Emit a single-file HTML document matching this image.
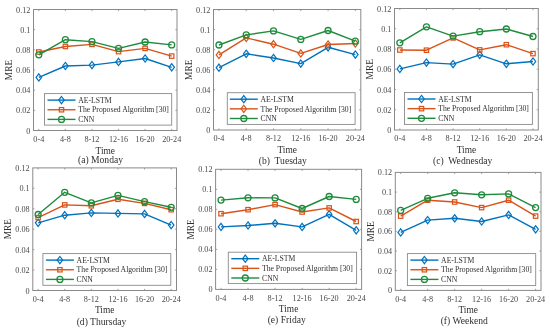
<!DOCTYPE html>
<html><head><meta charset="utf-8"><style>
html,body{margin:0;padding:0;background:#fff;}
svg{display:block;filter:blur(0.5px);}
text{font-family:"Liberation Serif",serif;fill:#303030;}
.t{fill:#4a4a4a;}
</style></head><body>
<svg width="550" height="332" viewBox="0 0 550 332">
<rect width="550" height="332" fill="#fff"/>
<rect x="33.5" y="9.5" width="143.5" height="121" fill="#fff" stroke="#8a8a8a" stroke-width="1"/>
<path d="M38.81 130.5v-1.6M38.81 9.5v1.6M65.39 130.5v-1.6M65.39 9.5v1.6M91.96 130.5v-1.6M91.96 9.5v1.6M118.54 130.5v-1.6M118.54 9.5v1.6M145.11 130.5v-1.6M145.11 9.5v1.6M171.69 130.5v-1.6M171.69 9.5v1.6M33.5 110.33h1.6M177 110.33h-1.6M33.5 90.17h1.6M177 90.17h-1.6M33.5 70h1.6M177 70h-1.6M33.5 49.83h1.6M177 49.83h-1.6M33.5 29.67h1.6M177 29.67h-1.6" stroke="#8a8a8a" stroke-width="0.8" fill="none"/>
<polyline points="38.81,77.4 65.39,66 91.96,65.1 118.54,61.9 145.11,58.5 171.69,67.3" fill="none" stroke="#0072BD" stroke-width="1.4" stroke-linejoin="round"/>
<path d="M38.81 73.8L41.56 77.4L38.81 81L36.06 77.4Z" fill="none" stroke="#0072BD" stroke-width="1.2"/>
<path d="M65.39 62.4L68.14 66L65.39 69.6L62.64 66Z" fill="none" stroke="#0072BD" stroke-width="1.2"/>
<path d="M91.96 61.5L94.71 65.1L91.96 68.7L89.21 65.1Z" fill="none" stroke="#0072BD" stroke-width="1.2"/>
<path d="M118.54 58.3L121.29 61.9L118.54 65.5L115.79 61.9Z" fill="none" stroke="#0072BD" stroke-width="1.2"/>
<path d="M145.11 54.9L147.86 58.5L145.11 62.1L142.36 58.5Z" fill="none" stroke="#0072BD" stroke-width="1.2"/>
<path d="M171.69 63.7L174.44 67.3L171.69 70.9L168.94 67.3Z" fill="none" stroke="#0072BD" stroke-width="1.2"/>
<polyline points="38.81,52 65.39,46.5 91.96,44.4 118.54,51.6 145.11,48.4 171.69,56.1" fill="none" stroke="#D95319" stroke-width="1.4" stroke-linejoin="round"/>
<rect x="36.61" y="49.8" width="4.4" height="4.4" fill="none" stroke="#D95319" stroke-width="1.2"/>
<rect x="63.19" y="44.3" width="4.4" height="4.4" fill="none" stroke="#D95319" stroke-width="1.2"/>
<rect x="89.76" y="42.2" width="4.4" height="4.4" fill="none" stroke="#D95319" stroke-width="1.2"/>
<rect x="116.34" y="49.4" width="4.4" height="4.4" fill="none" stroke="#D95319" stroke-width="1.2"/>
<rect x="142.91" y="46.2" width="4.4" height="4.4" fill="none" stroke="#D95319" stroke-width="1.2"/>
<rect x="169.49" y="53.9" width="4.4" height="4.4" fill="none" stroke="#D95319" stroke-width="1.2"/>
<polyline points="38.81,54.8 65.39,39.7 91.96,41.6 118.54,48.4 145.11,42 171.69,44.9" fill="none" stroke="#1E8C3C" stroke-width="1.4" stroke-linejoin="round"/>
<circle cx="38.81" cy="54.8" r="3.0" fill="none" stroke="#1E8C3C" stroke-width="1.3"/>
<circle cx="65.39" cy="39.7" r="3.0" fill="none" stroke="#1E8C3C" stroke-width="1.3"/>
<circle cx="91.96" cy="41.6" r="3.0" fill="none" stroke="#1E8C3C" stroke-width="1.3"/>
<circle cx="118.54" cy="48.4" r="3.0" fill="none" stroke="#1E8C3C" stroke-width="1.3"/>
<circle cx="145.11" cy="42" r="3.0" fill="none" stroke="#1E8C3C" stroke-width="1.3"/>
<circle cx="171.69" cy="44.9" r="3.0" fill="none" stroke="#1E8C3C" stroke-width="1.3"/>
<text x="38.81" y="141.8" text-anchor="middle" font-size="8.2" class="t">0-4</text>
<text x="65.39" y="141.8" text-anchor="middle" font-size="8.2" class="t">4-8</text>
<text x="91.96" y="141.8" text-anchor="middle" font-size="8.2" class="t">8-12</text>
<text x="118.54" y="141.8" text-anchor="middle" font-size="8.2" class="t">12-16</text>
<text x="145.11" y="141.8" text-anchor="middle" font-size="8.2" class="t">16-20</text>
<text x="171.69" y="141.8" text-anchor="middle" font-size="8.2" class="t">20-24</text>
<text x="30.4" y="133.5" text-anchor="end" font-size="8.2" class="t">0</text>
<text x="30.4" y="113.33" text-anchor="end" font-size="8.2" class="t">0.02</text>
<text x="30.4" y="93.17" text-anchor="end" font-size="8.2" class="t">0.04</text>
<text x="30.4" y="73" text-anchor="end" font-size="8.2" class="t">0.06</text>
<text x="30.4" y="52.83" text-anchor="end" font-size="8.2" class="t">0.08</text>
<text x="30.4" y="32.67" text-anchor="end" font-size="8.2" class="t">0.1</text>
<text x="30.4" y="12.5" text-anchor="end" font-size="8.2" class="t">0.12</text>
<text x="105.25" y="153.6" text-anchor="middle" font-size="9.4">Time</text>
<text transform="translate(12 70) rotate(-90)" text-anchor="middle" font-size="9.4">MRE</text>
<text x="100.5" y="163.1" text-anchor="middle" font-size="9.6" xml:space="preserve">(a) Monday</text>
<rect x="44.5" y="93.6" width="127.2" height="31.5" fill="#fff" stroke="#8a8a8a" stroke-width="0.9"/>
<path d="M47.5 100.1H75.5" stroke="#0072BD" stroke-width="1.4"/>
<path d="M61.5 96.5L64.25 100.1L61.5 103.7L58.75 100.1Z" fill="none" stroke="#0072BD" stroke-width="1.2"/>
<text x="78.2" y="102.8" font-size="7.7">AE-LSTM</text>
<path d="M47.5 109.75H75.5" stroke="#D95319" stroke-width="1.4"/>
<rect x="59.3" y="107.55" width="4.4" height="4.4" fill="none" stroke="#D95319" stroke-width="1.2"/>
<text x="78.2" y="112.45" font-size="7.7">The Proposed Algorithm [30]</text>
<path d="M47.5 119.4H75.5" stroke="#1E8C3C" stroke-width="1.4"/>
<circle cx="61.5" cy="119.4" r="3.0" fill="none" stroke="#1E8C3C" stroke-width="1.3"/>
<text x="78.2" y="122.1" font-size="7.7">CNN</text>
<rect x="213.5" y="9.5" width="147.3" height="120.5" fill="#fff" stroke="#8a8a8a" stroke-width="1"/>
<path d="M218.96 130v-1.6M218.96 9.5v1.6M246.23 130v-1.6M246.23 9.5v1.6M273.51 130v-1.6M273.51 9.5v1.6M300.79 130v-1.6M300.79 9.5v1.6M328.07 130v-1.6M328.07 9.5v1.6M355.34 130v-1.6M355.34 9.5v1.6M213.5 109.92h1.6M360.8 109.92h-1.6M213.5 89.83h1.6M360.8 89.83h-1.6M213.5 69.75h1.6M360.8 69.75h-1.6M213.5 49.67h1.6M360.8 49.67h-1.6M213.5 29.58h1.6M360.8 29.58h-1.6" stroke="#8a8a8a" stroke-width="0.8" fill="none"/>
<polyline points="218.96,67.7 246.23,53.8 273.51,58 300.79,63.6 328.07,47.3 355.34,54.6" fill="none" stroke="#0072BD" stroke-width="1.4" stroke-linejoin="round"/>
<path d="M218.96 64.1L221.71 67.7L218.96 71.3L216.21 67.7Z" fill="none" stroke="#0072BD" stroke-width="1.2"/>
<path d="M246.23 50.2L248.98 53.8L246.23 57.4L243.48 53.8Z" fill="none" stroke="#0072BD" stroke-width="1.2"/>
<path d="M273.51 54.4L276.26 58L273.51 61.6L270.76 58Z" fill="none" stroke="#0072BD" stroke-width="1.2"/>
<path d="M300.79 60L303.54 63.6L300.79 67.2L298.04 63.6Z" fill="none" stroke="#0072BD" stroke-width="1.2"/>
<path d="M328.07 43.7L330.82 47.3L328.07 50.9L325.32 47.3Z" fill="none" stroke="#0072BD" stroke-width="1.2"/>
<path d="M355.34 51L358.09 54.6L355.34 58.2L352.59 54.6Z" fill="none" stroke="#0072BD" stroke-width="1.2"/>
<polyline points="218.96,54.9 246.23,37.9 273.51,44.2 300.79,53.4 328.07,44.5 355.34,43.5" fill="none" stroke="#D95319" stroke-width="1.4" stroke-linejoin="round"/>
<path d="M218.96 51.3L221.71 54.9L218.96 58.5L216.21 54.9Z" fill="none" stroke="#D95319" stroke-width="1.2"/>
<path d="M246.23 34.3L248.98 37.9L246.23 41.5L243.48 37.9Z" fill="none" stroke="#D95319" stroke-width="1.2"/>
<path d="M273.51 40.6L276.26 44.2L273.51 47.8L270.76 44.2Z" fill="none" stroke="#D95319" stroke-width="1.2"/>
<path d="M300.79 49.8L303.54 53.4L300.79 57L298.04 53.4Z" fill="none" stroke="#D95319" stroke-width="1.2"/>
<path d="M328.07 40.9L330.82 44.5L328.07 48.1L325.32 44.5Z" fill="none" stroke="#D95319" stroke-width="1.2"/>
<path d="M355.34 39.9L358.09 43.5L355.34 47.1L352.59 43.5Z" fill="none" stroke="#D95319" stroke-width="1.2"/>
<polyline points="218.96,45 246.23,34.9 273.51,30.9 300.79,39.4 328.07,30.5 355.34,41.2" fill="none" stroke="#1E8C3C" stroke-width="1.4" stroke-linejoin="round"/>
<circle cx="218.96" cy="45" r="3.0" fill="none" stroke="#1E8C3C" stroke-width="1.3"/>
<circle cx="246.23" cy="34.9" r="3.0" fill="none" stroke="#1E8C3C" stroke-width="1.3"/>
<circle cx="273.51" cy="30.9" r="3.0" fill="none" stroke="#1E8C3C" stroke-width="1.3"/>
<circle cx="300.79" cy="39.4" r="3.0" fill="none" stroke="#1E8C3C" stroke-width="1.3"/>
<circle cx="328.07" cy="30.5" r="3.0" fill="none" stroke="#1E8C3C" stroke-width="1.3"/>
<circle cx="355.34" cy="41.2" r="3.0" fill="none" stroke="#1E8C3C" stroke-width="1.3"/>
<text x="218.96" y="141.3" text-anchor="middle" font-size="8.2" class="t">0-4</text>
<text x="246.23" y="141.3" text-anchor="middle" font-size="8.2" class="t">4-8</text>
<text x="273.51" y="141.3" text-anchor="middle" font-size="8.2" class="t">8-12</text>
<text x="300.79" y="141.3" text-anchor="middle" font-size="8.2" class="t">12-16</text>
<text x="328.07" y="141.3" text-anchor="middle" font-size="8.2" class="t">16-20</text>
<text x="355.34" y="141.3" text-anchor="middle" font-size="8.2" class="t">20-24</text>
<text x="210.4" y="133" text-anchor="end" font-size="8.2" class="t">0</text>
<text x="210.4" y="112.92" text-anchor="end" font-size="8.2" class="t">0.02</text>
<text x="210.4" y="92.83" text-anchor="end" font-size="8.2" class="t">0.04</text>
<text x="210.4" y="72.75" text-anchor="end" font-size="8.2" class="t">0.06</text>
<text x="210.4" y="52.67" text-anchor="end" font-size="8.2" class="t">0.08</text>
<text x="210.4" y="32.58" text-anchor="end" font-size="8.2" class="t">0.1</text>
<text x="210.4" y="12.5" text-anchor="end" font-size="8.2" class="t">0.12</text>
<text x="287.15" y="152.8" text-anchor="middle" font-size="9.4">Time</text>
<text transform="translate(192 69.75) rotate(-90)" text-anchor="middle" font-size="9.4">MRE</text>
<text x="282.75" y="164" text-anchor="middle" font-size="9.6" xml:space="preserve">(b)  Tuesday</text>
<rect x="227.3" y="92.7" width="127.8" height="31.7" fill="#fff" stroke="#8a8a8a" stroke-width="0.9"/>
<path d="M229.8 99.2H257.8" stroke="#0072BD" stroke-width="1.4"/>
<path d="M243.8 95.6L246.55 99.2L243.8 102.8L241.05 99.2Z" fill="none" stroke="#0072BD" stroke-width="1.2"/>
<text x="260.5" y="101.9" font-size="7.7">AE-LSTM</text>
<path d="M229.8 108.85H257.8" stroke="#D95319" stroke-width="1.4"/>
<path d="M243.8 105.25L246.55 108.85L243.8 112.45L241.05 108.85Z" fill="none" stroke="#D95319" stroke-width="1.2"/>
<text x="260.5" y="111.55" font-size="7.7">The Proposed Algorithm [30]</text>
<path d="M229.8 118.5H257.8" stroke="#1E8C3C" stroke-width="1.4"/>
<circle cx="243.8" cy="118.5" r="3.0" fill="none" stroke="#1E8C3C" stroke-width="1.3"/>
<text x="260.5" y="121.2" font-size="7.7">CNN</text>
<rect x="394.5" y="8.5" width="143.8" height="121.5" fill="#fff" stroke="#8a8a8a" stroke-width="1"/>
<path d="M399.83 130v-1.6M399.83 8.5v1.6M426.46 130v-1.6M426.46 8.5v1.6M453.09 130v-1.6M453.09 8.5v1.6M479.71 130v-1.6M479.71 8.5v1.6M506.34 130v-1.6M506.34 8.5v1.6M532.97 130v-1.6M532.97 8.5v1.6M394.5 109.75h1.6M538.3 109.75h-1.6M394.5 89.5h1.6M538.3 89.5h-1.6M394.5 69.25h1.6M538.3 69.25h-1.6M394.5 49h1.6M538.3 49h-1.6M394.5 28.75h1.6M538.3 28.75h-1.6" stroke="#8a8a8a" stroke-width="0.8" fill="none"/>
<polyline points="399.83,68.9 426.46,62.6 453.09,64.1 479.71,54.8 506.34,63.8 532.97,61.5" fill="none" stroke="#0072BD" stroke-width="1.4" stroke-linejoin="round"/>
<path d="M399.83 65.3L402.58 68.9L399.83 72.5L397.08 68.9Z" fill="none" stroke="#0072BD" stroke-width="1.2"/>
<path d="M426.46 59L429.21 62.6L426.46 66.2L423.71 62.6Z" fill="none" stroke="#0072BD" stroke-width="1.2"/>
<path d="M453.09 60.5L455.84 64.1L453.09 67.7L450.34 64.1Z" fill="none" stroke="#0072BD" stroke-width="1.2"/>
<path d="M479.71 51.2L482.46 54.8L479.71 58.4L476.96 54.8Z" fill="none" stroke="#0072BD" stroke-width="1.2"/>
<path d="M506.34 60.2L509.09 63.8L506.34 67.4L503.59 63.8Z" fill="none" stroke="#0072BD" stroke-width="1.2"/>
<path d="M532.97 57.9L535.72 61.5L532.97 65.1L530.22 61.5Z" fill="none" stroke="#0072BD" stroke-width="1.2"/>
<polyline points="399.83,50 426.46,50.2 453.09,37.9 479.71,49.9 506.34,44.7 532.97,53.6" fill="none" stroke="#D95319" stroke-width="1.4" stroke-linejoin="round"/>
<rect x="397.63" y="47.8" width="4.4" height="4.4" fill="none" stroke="#D95319" stroke-width="1.2"/>
<rect x="424.26" y="48" width="4.4" height="4.4" fill="none" stroke="#D95319" stroke-width="1.2"/>
<rect x="450.89" y="35.7" width="4.4" height="4.4" fill="none" stroke="#D95319" stroke-width="1.2"/>
<rect x="477.51" y="47.7" width="4.4" height="4.4" fill="none" stroke="#D95319" stroke-width="1.2"/>
<rect x="504.14" y="42.5" width="4.4" height="4.4" fill="none" stroke="#D95319" stroke-width="1.2"/>
<rect x="530.77" y="51.4" width="4.4" height="4.4" fill="none" stroke="#D95319" stroke-width="1.2"/>
<polyline points="399.83,42.8 426.46,26.8 453.09,36.1 479.71,31.7 506.34,29 532.97,36.5" fill="none" stroke="#1E8C3C" stroke-width="1.4" stroke-linejoin="round"/>
<circle cx="399.83" cy="42.8" r="3.0" fill="none" stroke="#1E8C3C" stroke-width="1.3"/>
<circle cx="426.46" cy="26.8" r="3.0" fill="none" stroke="#1E8C3C" stroke-width="1.3"/>
<circle cx="453.09" cy="36.1" r="3.0" fill="none" stroke="#1E8C3C" stroke-width="1.3"/>
<circle cx="479.71" cy="31.7" r="3.0" fill="none" stroke="#1E8C3C" stroke-width="1.3"/>
<circle cx="506.34" cy="29" r="3.0" fill="none" stroke="#1E8C3C" stroke-width="1.3"/>
<circle cx="532.97" cy="36.5" r="3.0" fill="none" stroke="#1E8C3C" stroke-width="1.3"/>
<text x="399.83" y="141.3" text-anchor="middle" font-size="8.2" class="t">0-4</text>
<text x="426.46" y="141.3" text-anchor="middle" font-size="8.2" class="t">4-8</text>
<text x="453.09" y="141.3" text-anchor="middle" font-size="8.2" class="t">8-12</text>
<text x="479.71" y="141.3" text-anchor="middle" font-size="8.2" class="t">12-16</text>
<text x="506.34" y="141.3" text-anchor="middle" font-size="8.2" class="t">16-20</text>
<text x="532.97" y="141.3" text-anchor="middle" font-size="8.2" class="t">20-24</text>
<text x="391.4" y="133" text-anchor="end" font-size="8.2" class="t">0</text>
<text x="391.4" y="112.75" text-anchor="end" font-size="8.2" class="t">0.02</text>
<text x="391.4" y="92.5" text-anchor="end" font-size="8.2" class="t">0.04</text>
<text x="391.4" y="72.25" text-anchor="end" font-size="8.2" class="t">0.06</text>
<text x="391.4" y="52" text-anchor="end" font-size="8.2" class="t">0.08</text>
<text x="391.4" y="31.75" text-anchor="end" font-size="8.2" class="t">0.1</text>
<text x="391.4" y="11.5" text-anchor="end" font-size="8.2" class="t">0.12</text>
<text x="466.4" y="153" text-anchor="middle" font-size="9.4">Time</text>
<text transform="translate(373 69.25) rotate(-90)" text-anchor="middle" font-size="9.4">MRE</text>
<text x="462.7" y="163.5" text-anchor="middle" font-size="9.6" xml:space="preserve">(c)  Wednesday</text>
<rect x="404.5" y="92.5" width="127.9" height="31.9" fill="#fff" stroke="#8a8a8a" stroke-width="0.9"/>
<path d="M407.5 99H435.5" stroke="#0072BD" stroke-width="1.4"/>
<path d="M421.5 95.4L424.25 99L421.5 102.6L418.75 99Z" fill="none" stroke="#0072BD" stroke-width="1.2"/>
<text x="438.2" y="101.7" font-size="7.7">AE-LSTM</text>
<path d="M407.5 108.65H435.5" stroke="#D95319" stroke-width="1.4"/>
<rect x="419.3" y="106.45" width="4.4" height="4.4" fill="none" stroke="#D95319" stroke-width="1.2"/>
<text x="438.2" y="111.35" font-size="7.7">The Proposed Algorithm [30]</text>
<path d="M407.5 118.3H435.5" stroke="#1E8C3C" stroke-width="1.4"/>
<circle cx="421.5" cy="118.3" r="3.0" fill="none" stroke="#1E8C3C" stroke-width="1.3"/>
<text x="438.2" y="121" font-size="7.7">CNN</text>
<rect x="32.8" y="167.9" width="143.7" height="122.6" fill="#fff" stroke="#8a8a8a" stroke-width="1"/>
<path d="M38.12 290.5v-1.6M38.12 167.9v1.6M64.73 290.5v-1.6M64.73 167.9v1.6M91.34 290.5v-1.6M91.34 167.9v1.6M117.96 290.5v-1.6M117.96 167.9v1.6M144.57 290.5v-1.6M144.57 167.9v1.6M171.18 290.5v-1.6M171.18 167.9v1.6M32.8 270.07h1.6M176.5 270.07h-1.6M32.8 249.63h1.6M176.5 249.63h-1.6M32.8 229.2h1.6M176.5 229.2h-1.6M32.8 208.77h1.6M176.5 208.77h-1.6M32.8 188.33h1.6M176.5 188.33h-1.6" stroke="#8a8a8a" stroke-width="0.8" fill="none"/>
<polyline points="38.12,222.8 64.73,215.2 91.34,212.9 117.96,213.4 144.57,213.9 171.18,225.1" fill="none" stroke="#0072BD" stroke-width="1.4" stroke-linejoin="round"/>
<path d="M38.12 219.2L40.87 222.8L38.12 226.4L35.37 222.8Z" fill="none" stroke="#0072BD" stroke-width="1.2"/>
<path d="M64.73 211.6L67.48 215.2L64.73 218.8L61.98 215.2Z" fill="none" stroke="#0072BD" stroke-width="1.2"/>
<path d="M91.34 209.3L94.09 212.9L91.34 216.5L88.59 212.9Z" fill="none" stroke="#0072BD" stroke-width="1.2"/>
<path d="M117.96 209.8L120.71 213.4L117.96 217L115.21 213.4Z" fill="none" stroke="#0072BD" stroke-width="1.2"/>
<path d="M144.57 210.3L147.32 213.9L144.57 217.5L141.82 213.9Z" fill="none" stroke="#0072BD" stroke-width="1.2"/>
<path d="M171.18 221.5L173.93 225.1L171.18 228.7L168.43 225.1Z" fill="none" stroke="#0072BD" stroke-width="1.2"/>
<polyline points="38.12,217.6 64.73,204.9 91.34,205.8 117.96,199.3 144.57,203.4 171.18,209.7" fill="none" stroke="#D95319" stroke-width="1.4" stroke-linejoin="round"/>
<rect x="35.92" y="215.4" width="4.4" height="4.4" fill="none" stroke="#D95319" stroke-width="1.2"/>
<rect x="62.53" y="202.7" width="4.4" height="4.4" fill="none" stroke="#D95319" stroke-width="1.2"/>
<rect x="89.14" y="203.6" width="4.4" height="4.4" fill="none" stroke="#D95319" stroke-width="1.2"/>
<rect x="115.76" y="197.1" width="4.4" height="4.4" fill="none" stroke="#D95319" stroke-width="1.2"/>
<rect x="142.37" y="201.2" width="4.4" height="4.4" fill="none" stroke="#D95319" stroke-width="1.2"/>
<rect x="168.98" y="207.5" width="4.4" height="4.4" fill="none" stroke="#D95319" stroke-width="1.2"/>
<polyline points="38.12,214.5 64.73,192.3 91.34,202.9 117.96,195.4 144.57,201.6 171.18,207.3" fill="none" stroke="#1E8C3C" stroke-width="1.4" stroke-linejoin="round"/>
<circle cx="38.12" cy="214.5" r="3.0" fill="none" stroke="#1E8C3C" stroke-width="1.3"/>
<circle cx="64.73" cy="192.3" r="3.0" fill="none" stroke="#1E8C3C" stroke-width="1.3"/>
<circle cx="91.34" cy="202.9" r="3.0" fill="none" stroke="#1E8C3C" stroke-width="1.3"/>
<circle cx="117.96" cy="195.4" r="3.0" fill="none" stroke="#1E8C3C" stroke-width="1.3"/>
<circle cx="144.57" cy="201.6" r="3.0" fill="none" stroke="#1E8C3C" stroke-width="1.3"/>
<circle cx="171.18" cy="207.3" r="3.0" fill="none" stroke="#1E8C3C" stroke-width="1.3"/>
<text x="38.12" y="301.8" text-anchor="middle" font-size="8.2" class="t">0-4</text>
<text x="64.73" y="301.8" text-anchor="middle" font-size="8.2" class="t">4-8</text>
<text x="91.34" y="301.8" text-anchor="middle" font-size="8.2" class="t">8-12</text>
<text x="117.96" y="301.8" text-anchor="middle" font-size="8.2" class="t">12-16</text>
<text x="144.57" y="301.8" text-anchor="middle" font-size="8.2" class="t">16-20</text>
<text x="171.18" y="301.8" text-anchor="middle" font-size="8.2" class="t">20-24</text>
<text x="29.7" y="293.5" text-anchor="end" font-size="8.2" class="t">0</text>
<text x="29.7" y="273.07" text-anchor="end" font-size="8.2" class="t">0.02</text>
<text x="29.7" y="252.63" text-anchor="end" font-size="8.2" class="t">0.04</text>
<text x="29.7" y="232.2" text-anchor="end" font-size="8.2" class="t">0.06</text>
<text x="29.7" y="211.77" text-anchor="end" font-size="8.2" class="t">0.08</text>
<text x="29.7" y="191.33" text-anchor="end" font-size="8.2" class="t">0.1</text>
<text x="29.7" y="170.9" text-anchor="end" font-size="8.2" class="t">0.12</text>
<text x="104.65" y="313.3" text-anchor="middle" font-size="9.4">Time</text>
<text transform="translate(11.3 229.2) rotate(-90)" text-anchor="middle" font-size="9.4">MRE</text>
<text x="101.5" y="324.55" text-anchor="middle" font-size="9.6" xml:space="preserve">(d) Thursday</text>
<rect x="42.9" y="253.6" width="127.9" height="31.7" fill="#fff" stroke="#8a8a8a" stroke-width="0.9"/>
<path d="M45.9 260.1H73.9" stroke="#0072BD" stroke-width="1.4"/>
<path d="M59.9 256.5L62.65 260.1L59.9 263.7L57.15 260.1Z" fill="none" stroke="#0072BD" stroke-width="1.2"/>
<text x="76.6" y="262.8" font-size="7.7">AE-LSTM</text>
<path d="M45.9 269.75H73.9" stroke="#D95319" stroke-width="1.4"/>
<rect x="57.7" y="267.55" width="4.4" height="4.4" fill="none" stroke="#D95319" stroke-width="1.2"/>
<text x="76.6" y="272.45" font-size="7.7">The Proposed Algorithm [30]</text>
<path d="M45.9 279.4H73.9" stroke="#1E8C3C" stroke-width="1.4"/>
<circle cx="59.9" cy="279.4" r="3.0" fill="none" stroke="#1E8C3C" stroke-width="1.3"/>
<text x="76.6" y="282.1" font-size="7.7">CNN</text>
<rect x="215.6" y="169.3" width="146" height="120.1" fill="#fff" stroke="#8a8a8a" stroke-width="1"/>
<path d="M221.01 289.4v-1.6M221.01 169.3v1.6M248.04 289.4v-1.6M248.04 169.3v1.6M275.08 289.4v-1.6M275.08 169.3v1.6M302.12 289.4v-1.6M302.12 169.3v1.6M329.16 289.4v-1.6M329.16 169.3v1.6M356.19 289.4v-1.6M356.19 169.3v1.6M215.6 269.38h1.6M361.6 269.38h-1.6M215.6 249.37h1.6M361.6 249.37h-1.6M215.6 229.35h1.6M361.6 229.35h-1.6M215.6 209.33h1.6M361.6 209.33h-1.6M215.6 189.32h1.6M361.6 189.32h-1.6" stroke="#8a8a8a" stroke-width="0.8" fill="none"/>
<polyline points="221.01,226.9 248.04,225.5 275.08,223.3 302.12,226.9 329.16,214.3 356.19,230.3" fill="none" stroke="#0072BD" stroke-width="1.4" stroke-linejoin="round"/>
<path d="M221.01 223.3L223.76 226.9L221.01 230.5L218.26 226.9Z" fill="none" stroke="#0072BD" stroke-width="1.2"/>
<path d="M248.04 221.9L250.79 225.5L248.04 229.1L245.29 225.5Z" fill="none" stroke="#0072BD" stroke-width="1.2"/>
<path d="M275.08 219.7L277.83 223.3L275.08 226.9L272.33 223.3Z" fill="none" stroke="#0072BD" stroke-width="1.2"/>
<path d="M302.12 223.3L304.87 226.9L302.12 230.5L299.37 226.9Z" fill="none" stroke="#0072BD" stroke-width="1.2"/>
<path d="M329.16 210.7L331.91 214.3L329.16 217.9L326.41 214.3Z" fill="none" stroke="#0072BD" stroke-width="1.2"/>
<path d="M356.19 226.7L358.94 230.3L356.19 233.9L353.44 230.3Z" fill="none" stroke="#0072BD" stroke-width="1.2"/>
<polyline points="221.01,213.7 248.04,209.7 275.08,204.6 302.12,212 329.16,207.9 356.19,221.5" fill="none" stroke="#D95319" stroke-width="1.4" stroke-linejoin="round"/>
<rect x="218.81" y="211.5" width="4.4" height="4.4" fill="none" stroke="#D95319" stroke-width="1.2"/>
<rect x="245.84" y="207.5" width="4.4" height="4.4" fill="none" stroke="#D95319" stroke-width="1.2"/>
<rect x="272.88" y="202.4" width="4.4" height="4.4" fill="none" stroke="#D95319" stroke-width="1.2"/>
<rect x="299.92" y="209.8" width="4.4" height="4.4" fill="none" stroke="#D95319" stroke-width="1.2"/>
<rect x="326.96" y="205.7" width="4.4" height="4.4" fill="none" stroke="#D95319" stroke-width="1.2"/>
<rect x="353.99" y="219.3" width="4.4" height="4.4" fill="none" stroke="#D95319" stroke-width="1.2"/>
<polyline points="221.01,200.1 248.04,197.8 275.08,197.9 302.12,208.5 329.16,196.5 356.19,199.4" fill="none" stroke="#1E8C3C" stroke-width="1.4" stroke-linejoin="round"/>
<circle cx="221.01" cy="200.1" r="3.0" fill="none" stroke="#1E8C3C" stroke-width="1.3"/>
<circle cx="248.04" cy="197.8" r="3.0" fill="none" stroke="#1E8C3C" stroke-width="1.3"/>
<circle cx="275.08" cy="197.9" r="3.0" fill="none" stroke="#1E8C3C" stroke-width="1.3"/>
<circle cx="302.12" cy="208.5" r="3.0" fill="none" stroke="#1E8C3C" stroke-width="1.3"/>
<circle cx="329.16" cy="196.5" r="3.0" fill="none" stroke="#1E8C3C" stroke-width="1.3"/>
<circle cx="356.19" cy="199.4" r="3.0" fill="none" stroke="#1E8C3C" stroke-width="1.3"/>
<text x="221.01" y="300.7" text-anchor="middle" font-size="8.2" class="t">0-4</text>
<text x="248.04" y="300.7" text-anchor="middle" font-size="8.2" class="t">4-8</text>
<text x="275.08" y="300.7" text-anchor="middle" font-size="8.2" class="t">8-12</text>
<text x="302.12" y="300.7" text-anchor="middle" font-size="8.2" class="t">12-16</text>
<text x="329.16" y="300.7" text-anchor="middle" font-size="8.2" class="t">16-20</text>
<text x="356.19" y="300.7" text-anchor="middle" font-size="8.2" class="t">20-24</text>
<text x="212.5" y="292.4" text-anchor="end" font-size="8.2" class="t">0</text>
<text x="212.5" y="272.38" text-anchor="end" font-size="8.2" class="t">0.02</text>
<text x="212.5" y="252.37" text-anchor="end" font-size="8.2" class="t">0.04</text>
<text x="212.5" y="232.35" text-anchor="end" font-size="8.2" class="t">0.06</text>
<text x="212.5" y="212.33" text-anchor="end" font-size="8.2" class="t">0.08</text>
<text x="212.5" y="192.32" text-anchor="end" font-size="8.2" class="t">0.1</text>
<text x="212.5" y="172.3" text-anchor="end" font-size="8.2" class="t">0.12</text>
<text x="288.6" y="312.2" text-anchor="middle" font-size="9.4">Time</text>
<text transform="translate(194.1 229.35) rotate(-90)" text-anchor="middle" font-size="9.4">MRE</text>
<text x="286.7" y="323.3" text-anchor="middle" font-size="9.6" xml:space="preserve">(e) Friday</text>
<rect x="228.3" y="252.2" width="128.3" height="31.4" fill="#fff" stroke="#8a8a8a" stroke-width="0.9"/>
<path d="M231.3 258.7H259.3" stroke="#0072BD" stroke-width="1.4"/>
<path d="M245.3 255.1L248.05 258.7L245.3 262.3L242.55 258.7Z" fill="none" stroke="#0072BD" stroke-width="1.2"/>
<text x="262" y="261.4" font-size="7.7">AE-LSTM</text>
<path d="M231.3 268.35H259.3" stroke="#D95319" stroke-width="1.4"/>
<rect x="243.1" y="266.15" width="4.4" height="4.4" fill="none" stroke="#D95319" stroke-width="1.2"/>
<text x="262" y="271.05" font-size="7.7">The Proposed Algorithm [30]</text>
<path d="M231.3 278H259.3" stroke="#1E8C3C" stroke-width="1.4"/>
<circle cx="245.3" cy="278" r="3.0" fill="none" stroke="#1E8C3C" stroke-width="1.3"/>
<text x="262" y="280.7" font-size="7.7">CNN</text>
<rect x="395.3" y="172.4" width="145.7" height="118" fill="#fff" stroke="#8a8a8a" stroke-width="1"/>
<path d="M400.7 290.4v-1.6M400.7 172.4v1.6M427.68 290.4v-1.6M427.68 172.4v1.6M454.66 290.4v-1.6M454.66 172.4v1.6M481.64 290.4v-1.6M481.64 172.4v1.6M508.62 290.4v-1.6M508.62 172.4v1.6M535.6 290.4v-1.6M535.6 172.4v1.6M395.3 270.73h1.6M541 270.73h-1.6M395.3 251.07h1.6M541 251.07h-1.6M395.3 231.4h1.6M541 231.4h-1.6M395.3 211.73h1.6M541 211.73h-1.6M395.3 192.07h1.6M541 192.07h-1.6" stroke="#8a8a8a" stroke-width="0.8" fill="none"/>
<polyline points="400.7,232.4 427.68,220.1 454.66,218.3 481.64,221.5 508.62,214.9 535.6,229.3" fill="none" stroke="#0072BD" stroke-width="1.4" stroke-linejoin="round"/>
<path d="M400.7 228.8L403.45 232.4L400.7 236L397.95 232.4Z" fill="none" stroke="#0072BD" stroke-width="1.2"/>
<path d="M427.68 216.5L430.43 220.1L427.68 223.7L424.93 220.1Z" fill="none" stroke="#0072BD" stroke-width="1.2"/>
<path d="M454.66 214.7L457.41 218.3L454.66 221.9L451.91 218.3Z" fill="none" stroke="#0072BD" stroke-width="1.2"/>
<path d="M481.64 217.9L484.39 221.5L481.64 225.1L478.89 221.5Z" fill="none" stroke="#0072BD" stroke-width="1.2"/>
<path d="M508.62 211.3L511.37 214.9L508.62 218.5L505.87 214.9Z" fill="none" stroke="#0072BD" stroke-width="1.2"/>
<path d="M535.6 225.7L538.35 229.3L535.6 232.9L532.85 229.3Z" fill="none" stroke="#0072BD" stroke-width="1.2"/>
<polyline points="400.7,216.1 427.68,200.2 454.66,202 481.64,207.6 508.62,200.2 535.6,216.1" fill="none" stroke="#D95319" stroke-width="1.4" stroke-linejoin="round"/>
<rect x="398.5" y="213.9" width="4.4" height="4.4" fill="none" stroke="#D95319" stroke-width="1.2"/>
<rect x="425.48" y="198" width="4.4" height="4.4" fill="none" stroke="#D95319" stroke-width="1.2"/>
<rect x="452.46" y="199.8" width="4.4" height="4.4" fill="none" stroke="#D95319" stroke-width="1.2"/>
<rect x="479.44" y="205.4" width="4.4" height="4.4" fill="none" stroke="#D95319" stroke-width="1.2"/>
<rect x="506.42" y="198" width="4.4" height="4.4" fill="none" stroke="#D95319" stroke-width="1.2"/>
<rect x="533.4" y="213.9" width="4.4" height="4.4" fill="none" stroke="#D95319" stroke-width="1.2"/>
<polyline points="400.7,210.4 427.68,198.3 454.66,192.8 481.64,194.8 508.62,193.9 535.6,207.6" fill="none" stroke="#1E8C3C" stroke-width="1.4" stroke-linejoin="round"/>
<circle cx="400.7" cy="210.4" r="3.0" fill="none" stroke="#1E8C3C" stroke-width="1.3"/>
<circle cx="427.68" cy="198.3" r="3.0" fill="none" stroke="#1E8C3C" stroke-width="1.3"/>
<circle cx="454.66" cy="192.8" r="3.0" fill="none" stroke="#1E8C3C" stroke-width="1.3"/>
<circle cx="481.64" cy="194.8" r="3.0" fill="none" stroke="#1E8C3C" stroke-width="1.3"/>
<circle cx="508.62" cy="193.9" r="3.0" fill="none" stroke="#1E8C3C" stroke-width="1.3"/>
<circle cx="535.6" cy="207.6" r="3.0" fill="none" stroke="#1E8C3C" stroke-width="1.3"/>
<text x="400.7" y="301.7" text-anchor="middle" font-size="8.2" class="t">0-4</text>
<text x="427.68" y="301.7" text-anchor="middle" font-size="8.2" class="t">4-8</text>
<text x="454.66" y="301.7" text-anchor="middle" font-size="8.2" class="t">8-12</text>
<text x="481.64" y="301.7" text-anchor="middle" font-size="8.2" class="t">12-16</text>
<text x="508.62" y="301.7" text-anchor="middle" font-size="8.2" class="t">16-20</text>
<text x="535.6" y="301.7" text-anchor="middle" font-size="8.2" class="t">20-24</text>
<text x="392.2" y="293.4" text-anchor="end" font-size="8.2" class="t">0</text>
<text x="392.2" y="273.73" text-anchor="end" font-size="8.2" class="t">0.02</text>
<text x="392.2" y="254.07" text-anchor="end" font-size="8.2" class="t">0.04</text>
<text x="392.2" y="234.4" text-anchor="end" font-size="8.2" class="t">0.06</text>
<text x="392.2" y="214.73" text-anchor="end" font-size="8.2" class="t">0.08</text>
<text x="392.2" y="195.07" text-anchor="end" font-size="8.2" class="t">0.1</text>
<text x="392.2" y="175.4" text-anchor="end" font-size="8.2" class="t">0.12</text>
<text x="468.15" y="313.3" text-anchor="middle" font-size="9.4">Time</text>
<text transform="translate(373.8 231.4) rotate(-90)" text-anchor="middle" font-size="9.4">MRE</text>
<text x="464.3" y="324.2" text-anchor="middle" font-size="9.6" xml:space="preserve">(f) Weekend</text>
<rect x="407.4" y="253.6" width="128.3" height="32" fill="#fff" stroke="#8a8a8a" stroke-width="0.9"/>
<path d="M410.4 260.1H438.4" stroke="#0072BD" stroke-width="1.4"/>
<path d="M424.4 256.5L427.15 260.1L424.4 263.7L421.65 260.1Z" fill="none" stroke="#0072BD" stroke-width="1.2"/>
<text x="441.1" y="262.8" font-size="7.7">AE-LSTM</text>
<path d="M410.4 269.75H438.4" stroke="#D95319" stroke-width="1.4"/>
<rect x="422.2" y="267.55" width="4.4" height="4.4" fill="none" stroke="#D95319" stroke-width="1.2"/>
<text x="441.1" y="272.45" font-size="7.7">The Proposed Algorithm [30]</text>
<path d="M410.4 279.4H438.4" stroke="#1E8C3C" stroke-width="1.4"/>
<circle cx="424.4" cy="279.4" r="3.0" fill="none" stroke="#1E8C3C" stroke-width="1.3"/>
<text x="441.1" y="282.1" font-size="7.7">CNN</text>
</svg>
</body></html>
